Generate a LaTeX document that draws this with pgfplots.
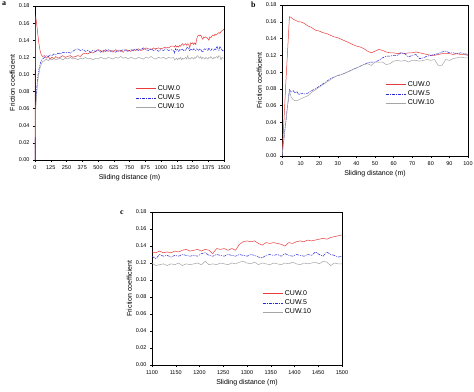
\documentclass[border=0pt]{standalone}
\usepackage{fontspec}
\setmainfont{Liberation Sans}
\newfontfamily\serifbf{Liberation Serif}
\usepackage{pgfplots}
\usepackage{pgfplotstable}
\pgfplotsset{compat=1.18}
\definecolor{cred}{RGB}{232,60,60}
\definecolor{cblue}{RGB}{40,40,215}
\definecolor{cgray}{RGB}{165,165,165}

\pgfplotstableread{
x r b g
0 0.000 0.000 0.000
3 0.160 0.040 0.040
6 0.167 0.070 0.060
10 0.163 0.075 0.068
15 0.157 0.085 0.080
20 0.150 0.095 0.090
30 0.137 0.105 0.100
40 0.128 0.112 0.108
50 0.123 0.116 0.112
60 0.121 0.118 0.115
75 0.122 0.120 0.116
90 0.119 0.122 0.118
105 0.121 0.121 0.116
120 0.118 0.123 0.118
135 0.120 0.122 0.117
150 0.118 0.124 0.119
165 0.121 0.123 0.117
180 0.119 0.125 0.118
200 0.120 0.124 0.119
220 0.122 0.126 0.117
240 0.120 0.125 0.119
260 0.121 0.126 0.118
280 0.122 0.125 0.120
300 0.120 0.127 0.118
320 0.121 0.129 0.119
340 0.122 0.130 0.117
360 0.121 0.128 0.119
380 0.124 0.129 0.118
400 0.125 0.127 0.120
420 0.124 0.128 0.118
440 0.126 0.126 0.119
460 0.125 0.128 0.117
480 0.127 0.127 0.119
500 0.129 0.128 0.118
520 0.128 0.126 0.120
540 0.126 0.128 0.119
560 0.129 0.127 0.118
580 0.127 0.129 0.120
600 0.128 0.127 0.119
620 0.126 0.128 0.118
640 0.129 0.126 0.120
660 0.127 0.128 0.119
680 0.128 0.127 0.121
700 0.126 0.129 0.119
720 0.129 0.128 0.120
740 0.128 0.127 0.118
760 0.127 0.129 0.120
780 0.129 0.128 0.119
800 0.128 0.130 0.118
820 0.130 0.128 0.120
840 0.128 0.129 0.119
860 0.129 0.131 0.118
880 0.131 0.129 0.120
900 0.130 0.128 0.119
920 0.129 0.130 0.121
940 0.131 0.128 0.119
960 0.130 0.129 0.118
980 0.131 0.127 0.120
1000 0.130 0.129 0.119
1020 0.131 0.128 0.120
1040 0.132 0.130 0.118
1060 0.131 0.128 0.120
1080 0.133 0.129 0.119
1100 0.133 0.128 0.120
}\tabA

\pgfplotstableread{
x r b g
1100 0.133 0.128 0.120
1108 0.132 0.125 0.117
1116 0.134 0.130 0.118
1124 0.132 0.128 0.119
1132 0.133 0.129 0.117
1140 0.132 0.127 0.119
1148 0.134 0.129 0.118
1156 0.133 0.128 0.120
1164 0.135 0.130 0.117
1172 0.136 0.129 0.119
1180 0.134 0.128 0.118
1188 0.135 0.129 0.119
1196 0.136 0.128 0.120
1204 0.134 0.131 0.118
1212 0.136 0.132 0.122
1220 0.135 0.129 0.118
1228 0.131 0.128 0.119
1236 0.137 0.130 0.118
1244 0.136 0.129 0.120
1252 0.137 0.128 0.119
1260 0.135 0.130 0.118
1268 0.137 0.129 0.120
1276 0.135 0.128 0.119
1284 0.142 0.130 0.121
1292 0.145 0.129 0.122
1300 0.146 0.128 0.120
1308 0.145 0.130 0.119
1316 0.146 0.129 0.121
1324 0.143 0.127 0.118
1332 0.141 0.126 0.120
1340 0.144 0.129 0.119
1348 0.143 0.130 0.118
1356 0.144 0.129 0.120
1364 0.143 0.130 0.119
1372 0.142 0.128 0.118
1380 0.140 0.131 0.120
1388 0.144 0.129 0.119
1396 0.143 0.128 0.121
1404 0.145 0.130 0.119
1412 0.146 0.129 0.118
1420 0.145 0.128 0.120
1428 0.147 0.130 0.119
1436 0.146 0.129 0.120
1444 0.147 0.133 0.121
1452 0.148 0.130 0.119
1460 0.149 0.128 0.122
1468 0.148 0.133 0.121
1476 0.150 0.130 0.117
1484 0.151 0.129 0.120
1492 0.152 0.127 0.119
1500 0.153 0.128 0.119
}\tabC

\pgfplotstableread{
x r b g
0 0.000 0.000 0.000
1 0.040 0.020 0.020
2 0.085 0.040 0.040
3 0.125 0.060 0.060
4 0.166 0.079 0.077
5 0.165 0.076 0.070
6 0.163 0.078 0.067
7 0.162 0.075 0.066
8 0.161 0.077 0.066
9 0.160 0.073 0.067
10 0.160 0.075 0.068
12 0.158 0.074 0.070
14 0.155 0.075 0.072
16 0.153 0.078 0.076
18 0.150 0.080 0.079
20 0.149 0.083 0.082
22 0.147 0.086 0.085
24 0.146 0.089 0.088
26 0.144 0.092 0.091
28 0.142 0.094 0.094
30 0.141 0.096 0.096
32 0.139 0.097 0.097
34 0.137 0.099 0.099
36 0.135 0.101 0.101
38 0.133 0.103 0.103
40 0.131 0.105 0.105
42 0.130 0.107 0.107
44 0.128 0.109 0.109
46 0.125 0.111 0.110
48 0.123 0.112 0.108
50 0.125 0.112 0.112
52 0.127 0.114 0.112
54 0.126 0.117 0.112
56 0.124 0.119 0.109
58 0.123 0.119 0.110
60 0.123 0.120 0.113
62 0.122 0.120 0.114
64 0.123 0.123 0.113
66 0.122 0.122 0.114
68 0.123 0.118 0.112
70 0.123 0.120 0.114
72 0.124 0.121 0.114
74 0.123 0.116 0.113
76 0.122 0.117 0.114
78 0.121 0.119 0.115
80 0.120 0.120 0.114
82 0.120 0.121 0.115
84 0.121 0.122 0.108
86 0.122 0.124 0.108
88 0.122 0.125 0.115
90 0.122 0.123 0.114
92 0.121 0.123 0.116
94 0.122 0.122 0.117
96 0.121 0.123 0.118
98 0.121 0.122 0.117
100 0.120 0.121 0.117
}\tabB

\pgfplotsset{
  panel/.style={
    scale only axis,
    anchor=south west,
    axis line style={line width=0.5pt},
    tick align=outside,
    xtick pos=bottom, ytick pos=left,
    major tick length=2pt,
    tick style={black, line width=0.4pt},
    ymin=0, ymax=0.18, ytick={0,0.02,...,0.181},
    xticklabel style={/pgf/number format/1000 sep={}},
    yticklabel style={/pgf/number format/.cd, fixed, fixed zerofill, precision=2},
    /pgf/number format/assume math mode=true,
    ticklabel style={font=\fontsize{5.5}{6}\selectfont},
    label style={font=\fontsize{7}{8}\selectfont},
    xlabel={Sliding distance (m)},
    ylabel={Friction coefficient},
    xlabel style={yshift=2pt}, ylabel style={yshift=-3pt},
    scaled ticks=false,
    legend cell align=left,
    legend style={draw=none, fill=none, font=\fontsize{7}{8}\selectfont,
      row sep=-1pt, inner sep=0pt, anchor=north west},
    legend image code/.code={\draw[##1] (0pt,0pt) -- (20pt,0pt);},
  },
  rline/.style={color=cred, line width=0.5pt},
  bline/.style={color=cblue, line width=0.5pt, dash pattern=on 3pt off 1pt on 1pt off 1pt},
  gline/.style={color=cgray, line width=0.5pt},
}

\begin{document}
\begin{tikzpicture}
\path[use as bounding box] (0pt,0pt) rectangle (474pt,391pt);

% panel a
\begin{axis}[panel, at={(35pt,231pt)}, width=189pt, height=154pt,
  xmin=0, xmax=1500, xtick={0,125,...,1500},
  legend style={at={(0.53,0.5)}}]
\addplot[rline] table[x=x,y=r] {\tabA};
\addlegendentry{CUW.0}
\addplot[bline] table[x=x,y=b] {\tabA};
\addlegendentry{CUW.5}
\addplot[gline] table[x=x,y=g] {\tabA};
\addlegendentry{CUW.10}
\addplot[rline, forget plot] table[x=x,y=r] {\tabC};
\addplot[bline, forget plot] table[x=x,y=b] {\tabC};
\addplot[gline, forget plot] table[x=x,y=g] {\tabC};
\end{axis}
\node[font=\serifbf\bfseries\fontsize{8}{8}\selectfont, anchor=north west, inner sep=1pt] at (1pt,390pt) {a};

% panel b
\begin{axis}[panel, at={(282pt,235pt)}, width=186pt, height=151pt,
  xmin=0, xmax=100, xtick={0,10,...,100},
  legend style={at={(0.555,0.51)}}]
\addplot[rline] table[x=x,y=r] {\tabB};
\addlegendentry{CUW.0}
\addplot[bline] table[x=x,y=b] {\tabB};
\addlegendentry{CUW.5}
\addplot[gline] table[x=x,y=g] {\tabB};
\addlegendentry{CUW.10}
\end{axis}
\node[font=\serifbf\bfseries\fontsize{8}{8}\selectfont, anchor=north west, inner sep=1pt] at (250pt,390pt) {b};

% panel c
\begin{axis}[panel, at={(152pt,26pt)}, width=190pt, height=153pt,
  xmin=1100, xmax=1500, xtick={1100,1150,...,1500},
  legend style={at={(0.58,0.503)}}]
\addplot[rline] table[x=x,y=r] {\tabC};
\addlegendentry{CUW.0}
\addplot[bline] table[x=x,y=b] {\tabC};
\addlegendentry{CUW.5}
\addplot[gline] table[x=x,y=g] {\tabC};
\addlegendentry{CUW.10}
\end{axis}
\node[font=\serifbf\bfseries\fontsize{8}{8}\selectfont, anchor=north west, inner sep=1pt] at (119pt,181pt) {c};
\end{tikzpicture}
\end{document}
